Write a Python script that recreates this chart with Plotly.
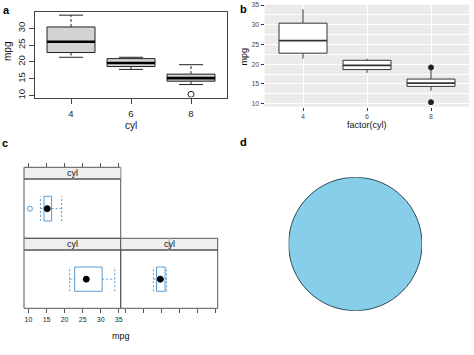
import plotly.graph_objects as go

# ---------------- data ----------------
cyl_levels = ["4", "6", "8"]
cyl_values = [4, 6, 8]

# base R / lattice boxplot statistics (Tukey hinges) of mpg by cyl
tk_lower = [21.4, 17.8, 13.3]
tk_q1 = [22.8, 18.65, 14.3]
tk_median = [26.0, 19.7, 15.2]
tk_q3 = [30.4, 21.0, 16.4]
tk_upper = [33.9, 21.4, 19.2]
tk_outliers = [[], [], [10.4]]

# ggplot2 boxplot statistics (quantile type 7)
gg_lower = [21.4, 17.8, 13.3]
gg_q1 = [22.8, 18.65, 14.4]
gg_median = [26.0, 19.7, 15.2]
gg_q3 = [30.4, 21.0, 16.25]
gg_upper = [33.9, 21.4, 18.7]
gg_outliers = [[], [], [10.4, 19.2]]

mpg_ticks = [10, 15, 20, 25, 30, 35]

# lattice layout: which cyl level goes in which panel
lattice_panels = {"8": ("x3", "y3"), "4": ("x4", "y4"), "6": ("x5", "y5")}

# circle (grid.circle defaults, npc)
circle_cx, circle_cy, circle_r = 0.5, 0.5, 0.5

# ---------------- geometry helpers ----------------
W, H = 474, 355
FONT = "Liberation Sans, Arial, Helvetica, sans-serif"


def fx(p):
    return p / W


def fy(p):
    return 1 - p / H


fig = go.Figure()


def add_line(xs, ys, xa, ya, color, width, dash="solid"):
    fig.add_trace(go.Scatter(x=xs, y=ys, xaxis=xa, yaxis=ya, mode="lines",
                             line=dict(color=color, width=width, dash=dash),
                             hoverinfo="skip", showlegend=False))


def add_rect(x0, x1, y0, y1, xa, ya, fill, color, width):
    fig.add_trace(go.Scatter(x=[x0, x1, x1, x0, x0], y=[y0, y0, y1, y1, y0],
                             xaxis=xa, yaxis=ya, mode="lines", fill="toself",
                             fillcolor=fill, line=dict(color=color, width=width),
                             hoverinfo="skip", showlegend=False))


def add_points(xs, ys, xa, ya, size, color, open_=False):
    fig.add_trace(go.Scatter(x=xs, y=ys, xaxis=xa, yaxis=ya, mode="markers",
                             marker=dict(size=size, color=color,
                                         symbol="circle-open" if open_ else "circle",
                                         line=dict(color=color, width=1)),
                             hoverinfo="skip", showlegend=False))


# ---------------- panel a: base R boxplot ----------------
hw, sw = 0.4, 0.2
for i in range(3):
    c = i + 1
    add_line([c, c], [tk_q3[i], tk_upper[i]], "x", "y", "#222", 1, "3px,2px")
    add_line([c, c], [tk_q1[i], tk_lower[i]], "x", "y", "#222", 1, "3px,2px")
    add_line([c - sw, c + sw], [tk_upper[i]] * 2, "x", "y", "#222", 1)
    add_line([c - sw, c + sw], [tk_lower[i]] * 2, "x", "y", "#222", 1)
    add_rect(c - hw, c + hw, tk_q1[i], tk_q3[i], "x", "y", "#D3D3D3", "#222", 1)
    add_line([c - hw, c + hw], [tk_median[i]] * 2, "x", "y", "#000", 2.6)
    if tk_outliers[i]:
        add_points([c] * len(tk_outliers[i]), tk_outliers[i], "x", "y", 6, "#222", open_=True)

# ---------------- panel b: ggplot2 boxplot ----------------
gw = 0.375
for i in range(3):
    c = i + 1
    add_line([c, c], [gg_q3[i], gg_upper[i]], "x2", "y2", "#333", 1)
    add_line([c, c], [gg_q1[i], gg_lower[i]], "x2", "y2", "#333", 1)
    add_rect(c - gw, c + gw, gg_q1[i], gg_q3[i], "x2", "y2", "#FFFFFF", "#333", 1)
    add_line([c - gw, c + gw], [gg_median[i]] * 2, "x2", "y2", "#333", 1.8)
    if gg_outliers[i]:
        add_points([c] * len(gg_outliers[i]), gg_outliers[i], "x2", "y2", 5, "#222")

# ---------------- panel c: lattice bwplot ----------------
blue = "#5B9BD0"
bh = 0.25
for i, lev in enumerate(cyl_levels):
    xa, ya = lattice_panels[lev]
    add_line([tk_lower[i], tk_q1[i]], [1, 1], xa, ya, blue, 1, "2px,2px")
    add_line([tk_q3[i], tk_upper[i]], [1, 1], xa, ya, blue, 1, "2px,2px")
    add_line([tk_lower[i]] * 2, [1 - bh, 1 + bh], xa, ya, blue, 1, "2px,2px")
    add_line([tk_upper[i]] * 2, [1 - bh, 1 + bh], xa, ya, blue, 1, "2px,2px")
    add_rect(tk_q1[i], tk_q3[i], 1 - bh, 1 + bh, xa, ya, "rgba(255,255,255,0)", blue, 1)
    add_points([tk_median[i]], [1], xa, ya, 6, "#000")
    if tk_outliers[i]:
        add_points(tk_outliers[i], [1] * len(tk_outliers[i]), xa, ya, 5, blue, open_=True)

# invisible anchor trace for panel d
fig.add_trace(go.Scatter(x=[circle_cx], y=[circle_cy], xaxis="x6", yaxis="y6",
                         mode="markers", marker=dict(opacity=0), hoverinfo="skip",
                         showlegend=False))

# ---------------- layout / axes ----------------
lat_range = [8.755, 35.545]
noax = dict(showgrid=False, zeroline=False, automargin=False)

layout = dict(
    template="none",
    width=W, height=H, margin=dict(l=0, r=0, t=0, b=0, pad=0, autoexpand=False),
    paper_bgcolor="white", plot_bgcolor="white", showlegend=False,
    font=dict(family=FONT, color="#222"),
    # panel a
    xaxis=dict(domain=[fx(35), fx(227)], range=[0.4, 3.6], tickvals=[1, 2, 3],
               ticktext=cyl_levels, ticks="outside", ticklen=5, tickcolor="#444",
               showline=True, linecolor="#444", mirror=True, anchor="y",
               tickfont=dict(size=9.5, color="#222"), ticklabelstandoff=2, **noax),
    yaxis=dict(domain=[fy(97.5), fy(12)], range=[9.46, 34.84], tickvals=mpg_ticks[:-1],
               tickangle=-90, ticks="outside", ticklen=5, tickcolor="#444",
               showline=True, linecolor="#444", mirror=True, anchor="x",
               tickfont=dict(size=9.5, color="#222"), **noax),
    # panel b
    xaxis2=dict(domain=[fx(264.6), fx(469.4)], range=[0.4, 3.6], tickvals=[1, 2, 3],
                ticktext=cyl_levels, ticks="outside", ticklen=3, tickcolor="#333",
                showline=False, showgrid=True, gridcolor="white", gridwidth=1,
                zeroline=False, automargin=False, anchor="y2",
                tickfont=dict(size=7, color="#4D4D4D")),
    yaxis2=dict(domain=[fy(106.8), fy(4.7)], range=[9.225, 35.075], tickvals=mpg_ticks,
                ticks="outside", ticklen=3, tickcolor="#333", showline=False,
                showgrid=True, gridcolor="white", gridwidth=1, zeroline=False,
                automargin=False,
                minor=dict(tickmode="linear", tick0=12.5, dtick=5, showgrid=True,
                           gridcolor="white", gridwidth=0.5, ticks=""),
                anchor="x2", tickfont=dict(size=7, color="#4D4D4D")),
    # panel c: top-left (cyl 8) with ticks above its strip
    xaxis3=dict(domain=[fx(24), fx(120.7)], range=lat_range, tickvals=mpg_ticks,
                anchor="free", position=fy(167.3), side="top", ticks="outside",
                ticklen=4, tickcolor="#555", showticklabels=False, showline=False, **noax),
    yaxis3=dict(domain=[fy(238.3), fy(179)], range=[0.4, 1.6], visible=False, anchor="x3"),
    # bottom-left (cyl 4)
    xaxis4=dict(domain=[fx(24), fx(120.7)], range=lat_range, tickvals=mpg_ticks,
                anchor="y4", ticks="outside", ticklen=4, tickcolor="#555",
                showline=False, tickfont=dict(size=7, color="#222"), **noax),
    yaxis4=dict(domain=[fy(308.3), fy(250)], range=[0.4, 1.6], visible=False, anchor="x4"),
    # bottom-right (cyl 6)
    xaxis5=dict(domain=[fx(120.7), fx(217.7)], range=lat_range, tickvals=mpg_ticks,
                anchor="y5", ticks="outside", ticklen=4, tickcolor="#555",
                showticklabels=False, showline=False, **noax),
    yaxis5=dict(domain=[fy(308.3), fy(250)], range=[0.4, 1.6], visible=False, anchor="x5"),
    # panel d
    xaxis6=dict(domain=[fx(288.6), fx(422)], range=[0, 1], visible=False, anchor="y6"),
    yaxis6=dict(domain=[fy(310.7), fy(177.3)], range=[0, 1], visible=False, anchor="x6"),
)
fig.update_layout(**layout)

shapes = []
# ggplot grey panel background (below gridlines)
shapes.append(dict(type="rect", xref="x2 domain", yref="y2 domain", x0=0, x1=1, y0=0, y1=1,
                   fillcolor="#EBEBEB", line=dict(width=0), layer="below"))

# lattice panel borders and strips
border = "#555"
panels_px = {"8": (24, 120.7, 167.3, 179, 238.3),
             "4": (24, 120.7, 238.3, 250, 308.3),
             "6": (120.7, 217.7, 238.3, 250, 308.3)}
lev_lo, lev_hi = min(cyl_values), max(cyl_values)
for lev, (x0, x1, s0, s1, p1) in panels_px.items():
    shapes.append(dict(type="rect", xref="paper", yref="paper", x0=fx(x0), x1=fx(x1),
                       y0=fy(s1), y1=fy(s0), fillcolor="#EFEFEF",
                       line=dict(color=border, width=1), layer="below"))
    frac = (int(lev) - lev_lo) / (lev_hi - lev_lo)
    xm = x0 + frac * (x1 - x0)
    shapes.append(dict(type="line", xref="paper", yref="paper", x0=fx(xm), x1=fx(xm),
                       y0=fy(s1), y1=fy(s0), line=dict(color="#B0B0B0", width=1.2)))
    shapes.append(dict(type="rect", xref="paper", yref="paper", x0=fx(x0), x1=fx(x1),
                       y0=fy(p1), y1=fy(s1), line=dict(color=border, width=1)))

# panel d circle
shapes.append(dict(type="circle", xref="x6", yref="y6",
                   x0=circle_cx - circle_r, x1=circle_cx + circle_r,
                   y0=circle_cy - circle_r, y1=circle_cy + circle_r,
                   fillcolor="#87CEEB", line=dict(color="#2F4858", width=1)))
fig.update_layout(shapes=shapes)

ann = []


def text(s, x, y, size, bold=False, angle=0, color="#111"):
    ann.append(dict(text=f"<b>{s}</b>" if bold else s, x=fx(x), y=fy(y), xref="paper",
                    yref="paper", showarrow=False, textangle=angle,
                    font=dict(size=size, color=color, family=FONT),
                    xanchor="center", yanchor="middle"))


text("a", 6, 10, 11, bold=True, color="#000")
text("b", 243.5, 9.5, 11, bold=True, color="#000")
text("c", 5, 142.5, 11, bold=True, color="#000")
text("d", 243.5, 142, 11, bold=True, color="#000")
text("cyl", 131, 126, 10)
text("mpg", 7, 52, 10, angle=-90)
text("mpg", 243.5, 57, 9, angle=-90)
text("factor(cyl)", 367, 125, 9)
text("mpg", 120.7, 336, 9)
for lev, (x0, x1, s0, s1, p1) in panels_px.items():
    text("cyl", (x0 + x1) / 2, (s0 + s1) / 2, 9)
fig.update_layout(annotations=ann)

fig.write_html("out.html",
               config={"displayModeBar": False},
               post_script="document.body.style.margin='0px';"
                           "document.body.style.overflow='hidden';")
